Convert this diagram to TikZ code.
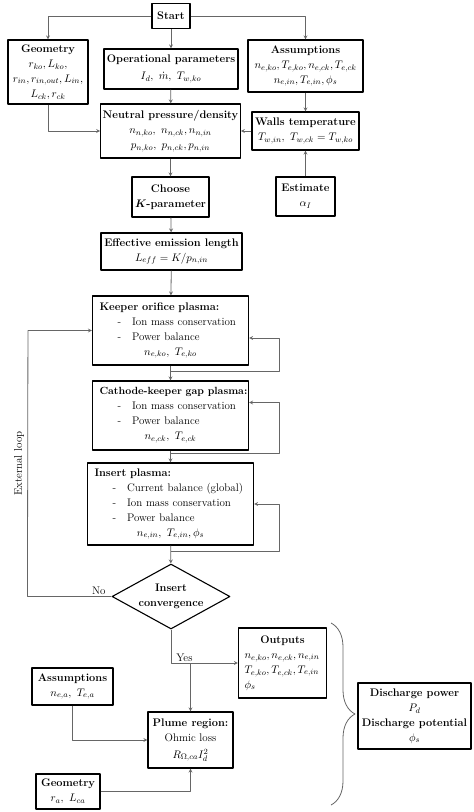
\documentclass[tikz,border=0pt]{standalone}
\usetikzlibrary{shapes.geometric,decorations.pathreplacing,calc}

\begin{document}
\begin{tikzpicture}[x=1pt,y=-1pt,line join=round,>=stealth,font=\fontsize{11}{15}\selectfont,
	box/.style={draw,line width=1.1pt,align=center,inner sep=2pt},
	plasma/.style={box,align=left,inner xsep=7pt},
	conn/.style={->,draw=black!60,line width=0.8pt}]
	\useasboundingbox (0,0) rectangle (474,812);
	% muc gach dau dong
	\def\itm#1{\hspace*{18pt}-\hspace{11pt}\mbox{#1}}
	
	% Khoi dau vao
	\node[box,minimum width=38pt,minimum height=25pt] (start) at (171,16) {\textbf{Start}};
	\node[box,inner xsep=0.5pt,minimum width=80pt,minimum height=64pt] (geo) at (48,72) {\textbf{Geometry}\\$r_{ko}, L_{ko},$\\$r_{in}, r_{in,out}, L_{in},$\\$L_{ck}, r_{ck}$};
	\node[box,minimum width=134pt,minimum height=40pt] (oper) at (171,69) {\textbf{Operational parameters}\\[2pt]$I_d,\ \dot{m},\ T_{w,ko}$};
	\node[box,minimum width=115pt,minimum height=52pt] (assum) at (305.5,66) {\textbf{Assumptions}\\$n_{e,ko}, T_{e,ko}, n_{e,ck}, T_{e,ck}$\\$n_{e,in}, T_{e,in}, \phi_s$};
	\node[box,minimum width=137pt,minimum height=54pt] (neutral) at (170.5,131) {\textbf{Neutral pressure/density}\\$n_{n,ko},\ n_{n,ck}, n_{n,in}$\\$p_{n,ko},\ p_{n,ck}, p_{n,in}$};
	\node[box,minimum width=107pt,minimum height=38pt] (walls) at (305.5,131) {\textbf{Walls temperature}\\$T_{w,in},\ T_{w,ck}=T_{w,ko}$};
	\node[box,minimum width=59pt,minimum height=39pt] (estim) at (305.5,196.5) {\textbf{Estimate}\\$\alpha_I$};
	\node[box,minimum width=77pt,minimum height=40pt] (choose) at (170.5,197) {\textbf{Choose}\\\textbf{\boldmath$K$-parameter}};
	\node[box,minimum width=141pt,minimum height=37pt] (effect) at (171.5,251.5) {\textbf{Effective emission length}\\$L_{eff}=K/p_{n,in}$};
	
	% Cac vung plasma
	\node[plasma,text width=142pt,minimum height=69pt] (keeper) at (170.5,330.5) {\mbox{\textbf{Keeper orifice plasma:}}\\\itm{Ion mass conservation}\\\itm{Power balance}\\\hfill$n_{e,ko},\ T_{e,ko}$\hfill\null};
	\node[plasma,text width=142pt,minimum height=69pt] (gap) at (170.5,415.5) {\mbox{\fontsize{10.4}{15}\selectfont\textbf{Cathode-keeper gap plasma:}}\\\itm{Ion mass conservation}\\\itm{Power balance}\\\hfill$n_{e,ck},\ T_{e,ck}$\hfill\null};
	\node[plasma,text width=152pt,minimum height=82pt] (insert) at (170.5,504) {\mbox{\textbf{Insert plasma:}}\\\itm{Current balance (global)}\\\itm{Ion mass conservation}\\\itm{Power balance}\\\hfill$n_{e,in},\ T_{e,in}, \phi_s$\hfill\null};
	\node[draw,line width=1.1pt,diamond,aspect=1.8,minimum width=118pt,minimum height=65pt,inner sep=0pt,align=center] (conv) at (171,596.5) {\textbf{Insert}\\\textbf{convergence}};
	
	% Dau ra va vung plume
	\node[box,align=left,inner xsep=6pt,text width=76pt,minimum height=70pt] (outputs) at (282.5,663) {\hfill\textbf{Outputs}\hfill\null\\$n_{e,ko}, n_{e,ck}, n_{e,in}$\\$T_{e,ko}, T_{e,ck}, T_{e,in}$\\$\phi_s$};
	\node[box,minimum width=81pt,minimum height=37pt] (assum2) at (72.5,686.5) {\textbf{Assumptions}\\$n_{e,a},\ T_{e,a}$};
	\node[box,minimum width=85pt,minimum height=56pt] (plume) at (190.5,740) {\textbf{Plume region:}\\Ohmic loss\\[2pt]$R_{\Omega,ca}I_d^2$};
	\node[box,minimum width=64pt,minimum height=35pt] (geo2) at (68,791.5) {\textbf{Geometry}\\$r_a,\ L_{ca}$};
	\node[box,minimum width=113pt,minimum height=66pt] (disch) at (414.5,716) {\textbf{Discharge power}\\$P_d$\\\textbf{Discharge potential}\\$\phi_s$};
	
	% Mui ten chinh
	\draw[conn] (start.west) -| (geo.north);
	\draw[conn] (start.east) -| (assum.north);
	\draw[conn] (start) -- (oper);
	\draw[conn] (oper) -- (neutral);
	\draw[conn] (geo.south) |- (neutral.west);
	\draw[conn] (assum) -- (walls);
	\draw[conn] (walls) -- (neutral);
	\draw[conn] (estim) -- (walls);
	\draw[conn] (neutral) -- (choose);
	\draw[conn] (choose) -- (effect);
	\draw[conn] (effect) -- (keeper);
	\draw[conn] (keeper) -- (gap);
	\draw[conn] (gap) -- (insert);
	\draw[conn] (insert) -- (conv);
	
	% Vong lap trong
	\draw[conn] ($(keeper.south)+(0,6)$) -| ($(keeper.east)+(30,7.5)$) -- ($(keeper.east)+(0,7.5)$);
	\draw[conn] ($(gap.south)+(0,3)$) -| ($(gap.east)+(30,-13)$) -- ($(gap.east)+(0,-13)$);
	\draw[conn] ($(insert.south)+(0,6)$) -| ($(insert.east)+(25,0)$) -- (insert.east);
	
	% Vong lap ngoai
	\draw[conn] (conv.west) -- ++(-84,0) node[pos=0.15,above,inner sep=1pt]{No} -- ($(keeper.west)-(64,0)$) node[midway,sloped,above]{External loop} -- (keeper.west);
	\draw[conn] (conv.south) |- (outputs.west) node[pos=0.6,above,inner sep=1pt]{Yes};
	\draw[conn] (plume.north |- outputs.west) -- (plume.north);
	\draw[conn] (assum2.south) |- (plume.west);
	\draw[conn] (geo2.east) -| (plume.south);
	
	% Ngoac
	\draw[draw=black!60,line width=0.8pt,decorate,decoration={brace,amplitude=24pt}] (331,623) -- (331,805);
\end{tikzpicture}
\end{document}
